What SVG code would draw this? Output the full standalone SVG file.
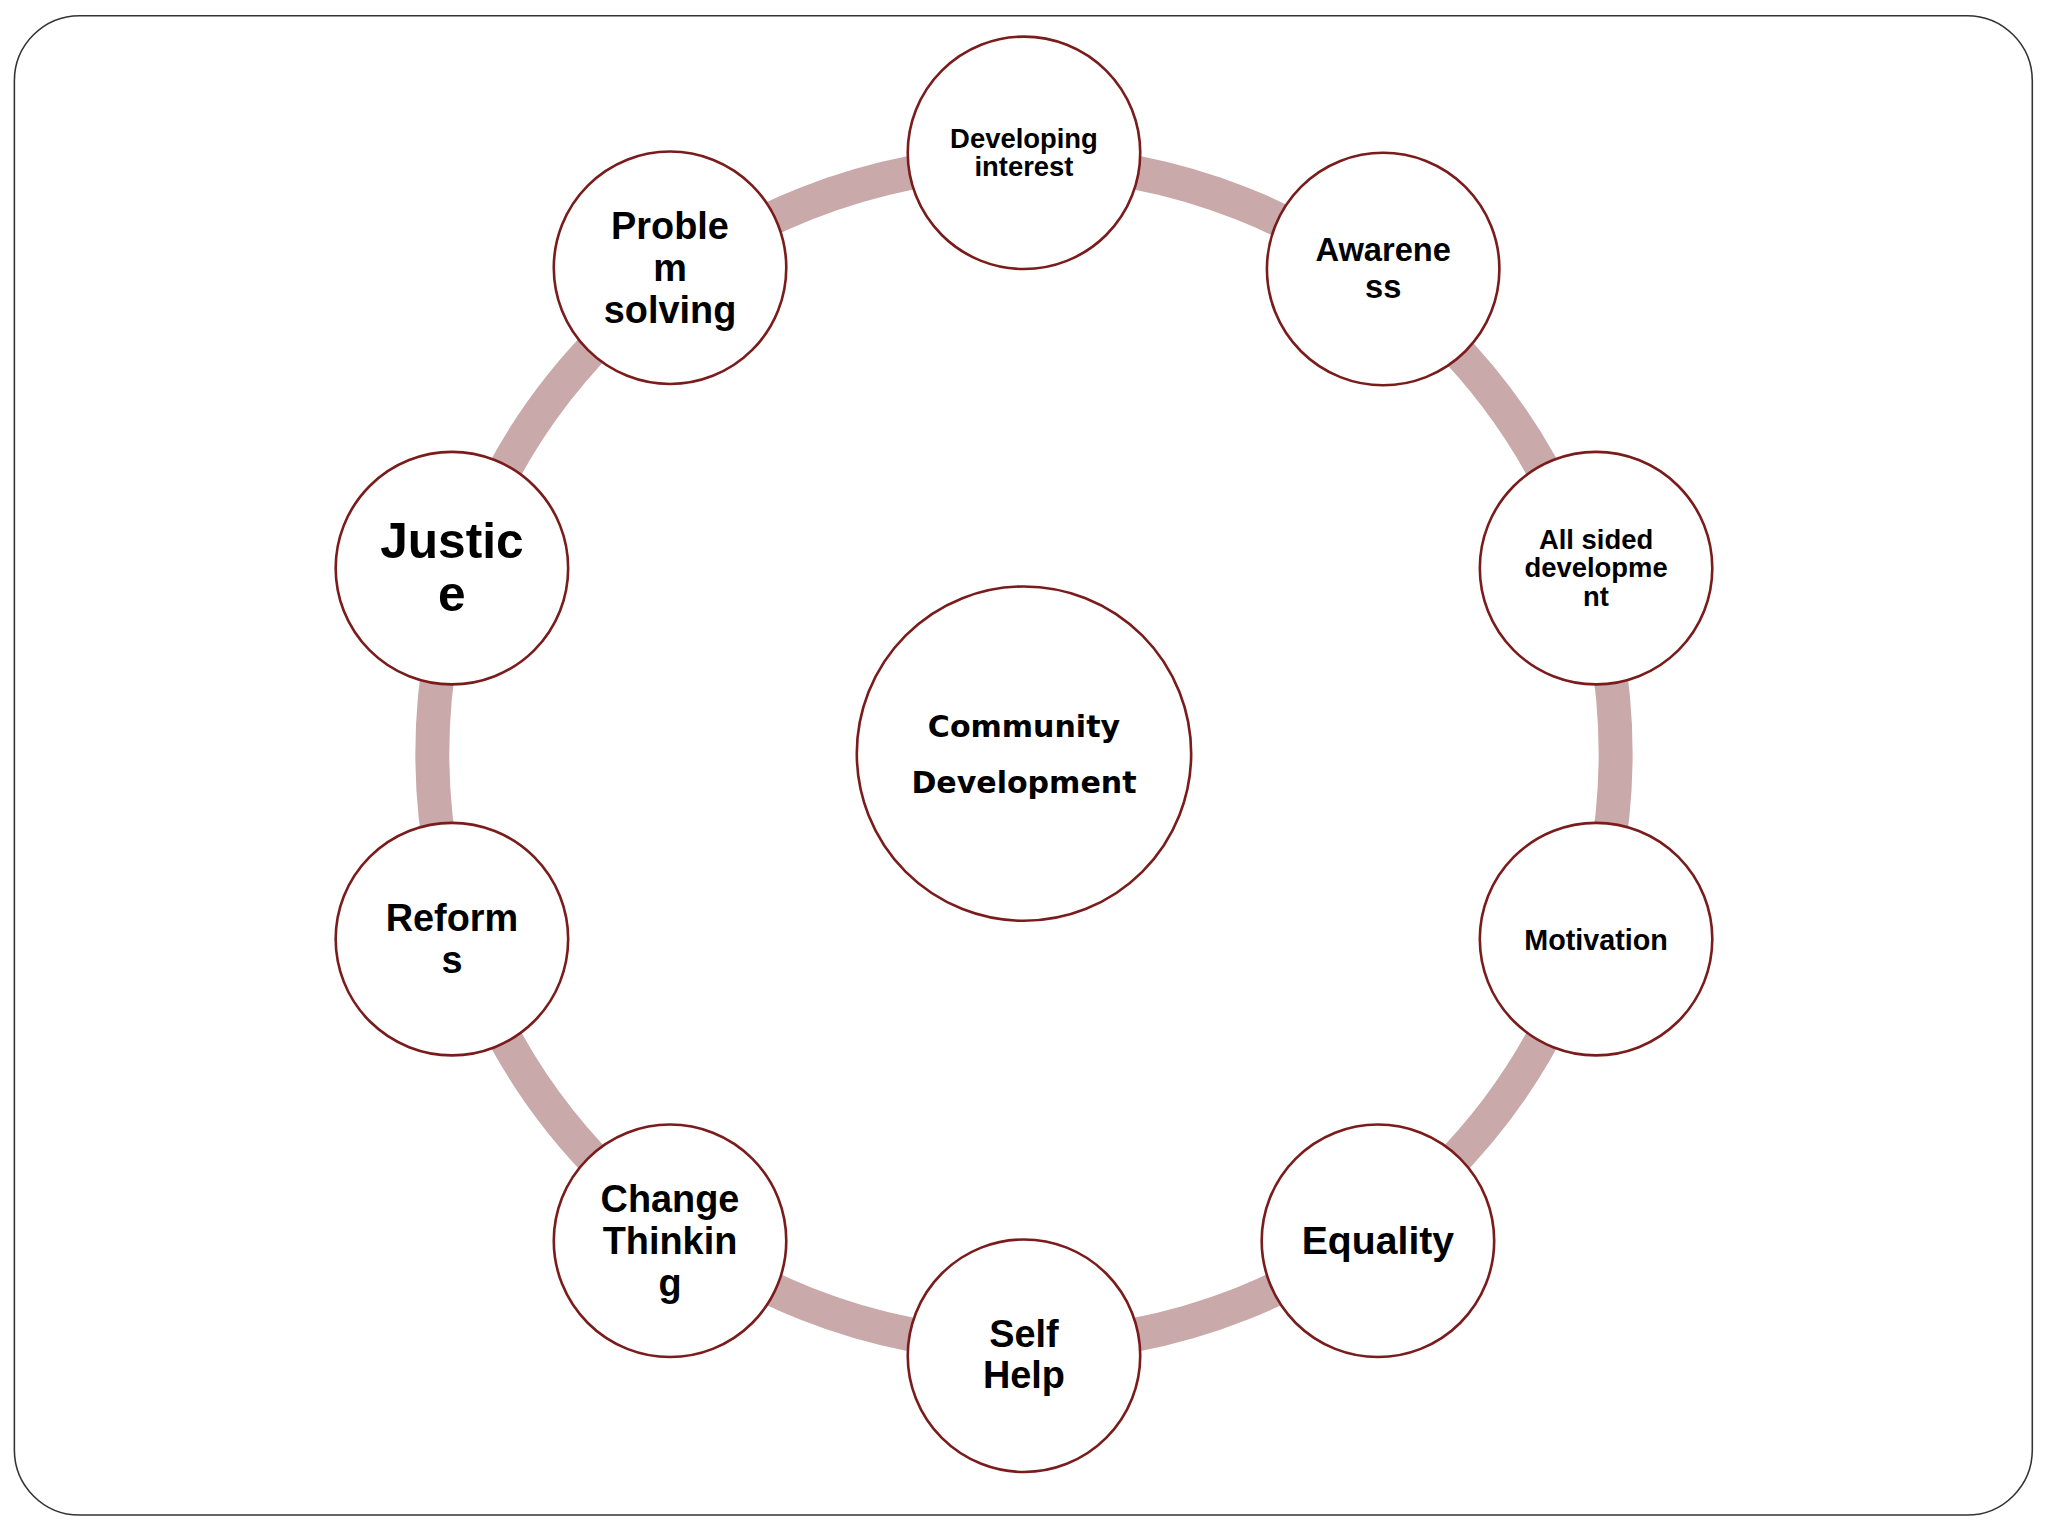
<svg xmlns="http://www.w3.org/2000/svg" width="2048" height="1536" viewBox="0 0 2048 1536">
<style>
.n{fill:#fff;stroke:#7b1c1c;stroke-width:2}
.t{font-family:"Liberation Sans",Arial,sans-serif;font-weight:bold;fill:#000;text-anchor:middle}
</style>
<rect width="2048" height="1536" fill="#fff"/>
<g transform="scale(1.3061)">
<rect x="11" y="12" width="1545" height="1148" rx="50" fill="#fff" stroke="#333" stroke-width="1.2"/>
<g id="connectors"><circle cx="784" cy="577" r="453" fill="none" stroke="#c9a9aa" stroke-width="26"/></g>
<g id="center"><circle class="n" cx="784" cy="577" r="128"/>
<text class="t" style="font-family:'DejaVu Sans',sans-serif;font-weight:900" font-size="23" x="784" y="564">Community</text>
<text class="t" style="font-family:'DejaVu Sans',sans-serif;font-weight:900" font-size="23" x="784" y="607">Development</text></g>
<g id="n1"><circle class="n" cx="784" cy="117" r="89"/><text class="t" font-size="21" x="784" y="113">Developing</text><text class="t" font-size="21" x="784" y="135">interest</text></g>
<g id="n2"><circle class="n" cx="1059" cy="206" r="89"/><text class="t" font-size="25" x="1059" y="200">Awarene</text><text class="t" font-size="25" x="1059" y="228">ss</text></g>
<g id="n3"><circle class="n" cx="1222" cy="435" r="89"/><text class="t" font-size="21" x="1222" y="420">All sided</text><text class="t" font-size="21" x="1222" y="442">developme</text><text class="t" font-size="21" x="1222" y="464">nt</text></g>
<g id="n4"><circle class="n" cx="1222" cy="719" r="89"/><text class="t" font-size="22" x="1222" y="727">Motivation</text></g>
<g id="n5"><circle class="n" cx="1055" cy="950" r="89"/><text class="t" font-size="30" x="1055" y="960">Equality</text></g>
<g id="n6"><circle class="n" cx="784" cy="1038" r="89"/><text class="t" font-size="29" x="784" y="1031">Self</text><text class="t" font-size="29" x="784" y="1063">Help</text></g>
<g id="n7"><circle class="n" cx="513" cy="950" r="89"/><text class="t" font-size="29" x="513" y="928">Change</text><text class="t" font-size="29" x="513" y="960">Thinkin</text><text class="t" font-size="29" x="513" y="992">g</text></g>
<g id="n8"><circle class="n" cx="346" cy="719" r="89"/><text class="t" font-size="29" x="346" y="713">Reform</text><text class="t" font-size="29" x="346" y="745">s</text></g>
<g id="n9"><circle class="n" cx="346" cy="435" r="89"/><text class="t" font-size="38" x="346" y="427">Justic</text><text class="t" font-size="38" x="346" y="468">e</text></g>
<g id="n10"><circle class="n" cx="513" cy="205" r="89"/><text class="t" font-size="29" x="513" y="183">Proble</text><text class="t" font-size="29" x="513" y="215">m</text><text class="t" font-size="29" x="513" y="247">solving</text></g>
</g>
</svg>
